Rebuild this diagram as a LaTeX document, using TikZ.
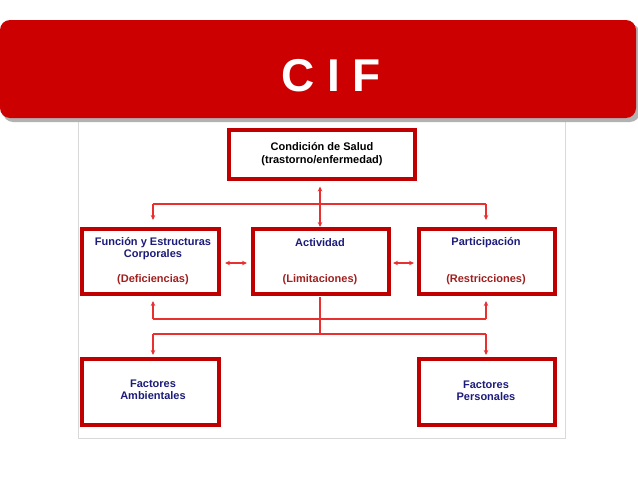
\documentclass[tikz,border=0pt]{standalone}
\usepackage{fontspec}
\setmainfont{Liberation Sans}
\usetikzlibrary{arrows.meta}
\definecolor{boxred}{HTML}{C00000}
\definecolor{banred}{HTML}{CC0000}
\definecolor{navy}{HTML}{1C1C7A}
\definecolor{brn}{HTML}{A02020}
\definecolor{lnred}{HTML}{E83030}
\tikzset{x=1pt,y=-1pt,
 box/.style={draw=boxred,line width=4pt,fill=white,inner sep=0pt},
 conn/.style={draw=lnred,line width=1.3pt},
 arr/.style={conn,-{Stealth[length=5pt,width=4.5pt]}},
 darr/.style={conn,{Stealth[length=5pt,width=4.5pt]}-{Stealth[length=5pt,width=4.5pt]}},
 txt/.style={font=\bfseries\fontsize{11}{12.5}\selectfont,text=navy,align=center},
 ptxt/.style={font=\bfseries\fontsize{11}{12.5}\selectfont,text=brn,align=center}}
\begin{document}
\begin{tikzpicture}
\useasboundingbox (0,0) rectangle (638,479);
\fill[white] (0,0) rectangle (638,479);
\draw[gray!30,line width=0.8pt] (78,110) rectangle (565,438);
% banner
\fill[gray!60,rounded corners=10pt] (3,24) rectangle (640,122);
\fill[banred,rounded corners=10pt] (0,20) rectangle (636,118);
\node[text=white,font=\bfseries\fontsize{46}{50}\selectfont] (title) at (331,76) {C I F};
% boxes
\node[box,minimum width=186pt,minimum height=49pt] (top) at (322,154) {};
\node[txt,text=black] at (322,154) {Condición de Salud\\(trastorno/enfermedad)};
\node[box,minimum width=137pt,minimum height=65pt] (fun) at (150.5,261.5) {};
\node[box,minimum width=136pt,minimum height=65pt] (act) at (321,261.5) {};
\node[box,minimum width=136pt,minimum height=65pt] (par) at (487,261.5) {};
\node[box,minimum width=137pt,minimum height=66pt] (amb) at (150.5,392) {};
\node[box,minimum width=136pt,minimum height=66pt] (per) at (487,392) {};
\node[txt,font=\bfseries\fontsize{11}{12}\selectfont] at (153,249) {Función y Estructuras\\Corporales};
\node[ptxt] at (153,280) {(Deficiencias)};
\node[txt] at (320,243) {Actividad};
\node[ptxt] at (320,280) {(Limitaciones)};
\node[txt] at (486,243) {Participación};
\node[ptxt] at (486,280) {(Restricciones)};
\node[txt] at (153,390) {Factores\\Ambientales};
\node[txt] at (486,391) {Factores\\Personales};
% connectors
\coordinate (hub1) at (320,204);
\draw[conn] (153,204) -- (486,204);
\draw[darr] (top.south -| hub1) ++(0,6) -- (act.north -| hub1) ;
\draw[arr] (153,204) -- (153,220);
\draw[arr] (486,204) -- (486,220);
\draw[darr] (225,263) -- (247,263);
\draw[darr] (393,263) -- (414,263);
\draw[conn] (320,297) -- (320,334);
\draw[conn] (153,319) -- (486,319);
\draw[arr] (153,319) -- (153,301);
\draw[arr] (486,319) -- (486,301);
\draw[conn] (153,334) -- (486,334);
\draw[arr] (153,334) -- (153,355);
\draw[arr] (486,334) -- (486,355);
\end{tikzpicture}
\end{document}
